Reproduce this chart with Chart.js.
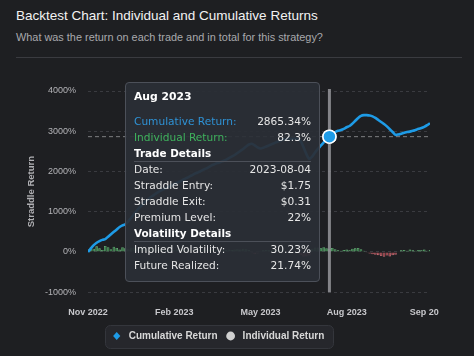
<!DOCTYPE html>
<html><head><meta charset="utf-8">
<script src="https://cdn.jsdelivr.net/npm/chart.js@4"></script>
<style>
html,body{margin:0;padding:0;background:#1e1f22;width:474px;height:356px;overflow:hidden;font-family:"Liberation Sans",Arial,sans-serif}
#title{position:absolute;left:16px;top:8px;font-size:13.5px;color:#f2f2f2}
#sub{position:absolute;left:16px;top:31px;font-size:10.9px;color:#a9a9ad}
#sep{position:absolute;left:16px;top:57px;width:446px;height:1px;background:#3a3b40}
#wrap{position:absolute;left:0;top:62px;width:449px;height:294px}
#tip{position:absolute;left:125px;top:82px;width:177px;height:186px;padding:6px 8px;background:rgba(42,46,54,0.93);border:1px solid #4c5059;border-radius:4px;font-family:"DejaVu Sans",sans-serif;font-size:10.6px;color:#e6e6e6}
#tip .h{font-weight:bold;font-size:10.4px;color:#fff;height:16px;line-height:16px}
#tip .h.t{height:24px;line-height:16px;font-size:10.8px}
#tip .r{display:flex;justify-content:space-between;height:16px;line-height:16px}
#tip .s{border-top:1px solid #4c5059;height:15px;line-height:14px}
</style></head><body>
<div id="title">Backtest Chart: Individual and Cumulative Returns</div>
<div id="sub">What was the return on each trade and in total for this strategy?</div>
<div id="sep"></div>
<div id="wrap"><canvas id="c" width="449" height="294"></canvas></div>
<div id="tip"></div>
<script>
// ---- data ----
const tickLabels = ['Nov 2022','Feb 2023','May 2023','Aug 2023','Sep 20'];
const tickPositions = [0, 30, 60, 90, 117];
const cumulativeReturn = [
 0,90,170,230,270,300,320,380,440,500,560,620,660,690,760,850,940,1030,1110,1180,
 1250,1310,1370,1420,1470,1510,1550,1580,1620,1650,1690,1720,1750,1790,1830,1860,1900,1940,1970,2000,
 2040,2070,2110,2150,2180,2210,2230,2260,2290,2330,2370,2410,2460,2510,2560,2620,2670,2690,2650,2600,
 2570,2590,2620,2650,2680,2710,2740,2770,2800,2810,2820,2810,2820,2810,2760,2600,2430,2310,2370,2470,
 2560,2640,2720,2800,2865.34,2930,2980,3010,3030,3060,3100,3130,3190,3260,3330,3380,3400,3400,3390,3370,
 3330,3280,3230,3180,3120,3050,2980,2910,2920,2940,2960,2980,2990,3010,3030,3060,3080,3110,3150,3200];
const individualReturn = [
 60,110,80,140,90,50,150,120,70,130,100,60,120,90,70,90,110,80,60,100,
 70,50,80,60,40,70,50,40,60,50,40,60,40,50,60,40,50,60,40,50,
 60,40,50,60,40,50,30,40,50,60,50,60,70,60,80,70,50,-30,-60,-40,
 30,40,50,40,50,40,50,40,40,20,20,-20,20,-30,-80,-120,-110,-90,80,110,
 110,90,120,95,82.3,100,70,40,30,50,60,40,80,90,100,70,30,-20,-40,-60,
 -70,-80,-100,-120,-90,-110,-80,-70,20,40,50,30,60,40,30,50,40,60,30,50];
const activeIndex = 84;
const tipInfo = {title:'Aug 2023', date:'2023-08-04', entry:'$1.75', exit:'$0.31', premium:'22%', iv:'30.23%', realized:'21.74%'};

const labels = cumulativeReturn.map((_, i) => i);
const lineColor = '#1e9be6';
const legendMarkers = [{color: lineColor, shape:'diamond'}, {color:'#d0d0d0', shape:'circle'}];

const tip = document.getElementById('tip');
tip.innerHTML =
 `<div class="h t">${tipInfo.title}</div>
  <div class="r" style="color:#2f93d6"><span>Cumulative Return:</span><span style="color:#e6e6e6">${cumulativeReturn[activeIndex].toFixed(2)}%</span></div>
  <div class="r" style="color:#3fb35d"><span>Individual Return:</span><span style="color:#e6e6e6">${individualReturn[activeIndex]}%</span></div>
  <div class="h">Trade Details</div>
  <div class="r s"><span>Date:</span><span>${tipInfo.date}</span></div>
  <div class="r"><span>Straddle Entry:</span><span>${tipInfo.entry}</span></div>
  <div class="r"><span>Straddle Exit:</span><span>${tipInfo.exit}</span></div>
  <div class="r"><span>Premium Level:</span><span>${tipInfo.premium}</span></div>
  <div class="h">Volatility Details</div>
  <div class="r s"><span>Implied Volatility:</span><span>${tipInfo.iv}</span></div>
  <div class="r"><span>Future Realized:</span><span>${tipInfo.realized}</span></div>`;

const crosshair = {
  id:'crosshair',
  afterDatasetsDraw(chart){
    const {ctx, chartArea:a, scales:{x,y}} = chart;
    const px = x.getPixelForValue(activeIndex);
    const py = y.getPixelForValue(cumulativeReturn[activeIndex]);
    ctx.save();
    ctx.strokeStyle = 'rgba(190,190,195,0.6)';
    ctx.setLineDash([4,3]); ctx.lineWidth = 1;
    ctx.beginPath(); ctx.moveTo(a.left, py); ctx.lineTo(a.right, py); ctx.stroke();
    ctx.setLineDash([]);
    ctx.strokeStyle = 'rgba(150,150,155,0.85)'; ctx.lineWidth = 3;
    ctx.beginPath(); ctx.moveTo(px, a.top-2); ctx.lineTo(px, a.bottom); ctx.stroke();
    ctx.restore();
    chart.getDatasetMeta(0).data[activeIndex].draw(ctx);
  }
};
const legendBox = {
  id:'legendBox',
  beforeDraw(chart){
    const lg = chart.legend; if(!lg || !lg.legendHitBoxes.length) return;
    const hb = lg.legendHitBoxes;
    const l = hb[0].left - 5, r = hb[hb.length-1].left + hb[hb.length-1].width + 8;
    const t = hb[0].top - 6.5, h = 23;
    const ctx = chart.ctx; ctx.save();
    ctx.fillStyle = '#26272c'; ctx.strokeStyle = '#34363c'; ctx.lineWidth = 1;
    ctx.beginPath(); ctx.roundRect(Math.round(l)+0.5, Math.round(t)+0.5, Math.round(r-l), h, 5); ctx.fill(); ctx.stroke();
    ctx.restore();
  },
  afterDraw(chart){
    const lg = chart.legend; if(!lg || !lg.legendHitBoxes.length) return;
    const ctx = chart.ctx; ctx.save();
    lg.legendHitBoxes.forEach((b, i) => {
      const m = legendMarkers[i]; if(!m) return;
      const cx = b.left + 7, cy = b.top + b.height/2;
      ctx.fillStyle = m.color; ctx.beginPath();
      if (m.shape === 'diamond'){ ctx.moveTo(cx, cy-4); ctx.lineTo(cx+3.6, cy); ctx.lineTo(cx, cy+4); ctx.lineTo(cx-3.6, cy); ctx.closePath(); }
      else { ctx.arc(cx, cy, 4.4, 0, Math.PI*2); }
      ctx.fill();
    });
    ctx.restore();
  }
};

new Chart(document.getElementById('c'), {
  data:{
    labels,
    datasets:[
      { type:'line', label:'Cumulative Return', data:cumulativeReturn,
        borderColor: lineColor, backgroundColor: lineColor, borderWidth: 2.6, tension: 0.25,
        pointRadius: ctx => ctx.dataIndex === activeIndex ? 6.5 : 0,
        pointBorderColor:'#ffffff', pointBorderWidth:1.5, pointBackgroundColor: lineColor,
        pointStyle:'circle', order:1 },
      { type:'bar', label:'Individual Return', data:individualReturn,
        backgroundColor: individualReturn.map(v => v >= 0 ? 'rgba(76,185,100,0.6)' : 'rgba(235,90,100,0.6)'),
        borderColor: individualReturn.map(v => v >= 0 ? 'rgba(130,220,150,0.9)' : 'rgba(245,140,150,0.9)'),
        borderWidth: 0.6, barPercentage: 0.9, categoryPercentage: 1, pointStyle:'circle', order:2 }
    ]
  },
  options:{
    animation:false, responsive:false,
    layout:{padding:{left:4, right:19, top:29, bottom:5}},
    plugins:{
      tooltip:{enabled:false},
      legend:{ position:'bottom',
        labels:{ usePointStyle:true, pointStyleWidth:14, boxHeight:6, padding:6, color:'#d8d8d8',
          font:{family:'Liberation Sans', size:10, weight:'bold'},
          generateLabels(chart){
            const items = Chart.defaults.plugins.legend.labels.generateLabels(chart);
            items.forEach(it => {
              it.fillStyle = 'rgba(0,0,0,0)'; it.strokeStyle = 'rgba(0,0,0,0)';
              it.lineWidth = 0; it.pointStyle = 'circle';
            });
            return items;
          } } }
    },
    scales:{
      x:{ type:'linear', min:0, max:cumulativeReturn.length-1, offset:false,
        grid:{display:false, offset:false}, border:{display:false},
        afterBuildTicks(scale){ scale.ticks = tickPositions.map(v => ({value:v})); },
        ticks:{ autoSkip:false, maxRotation:0, color:'#c8c8cc', padding:7,
          font:{family:'Liberation Sans', size:9, weight:'bold'},
          callback:(v) => tickLabels[tickPositions.indexOf(v)] } },
      y:{ min:-1000, max:4000,
        afterFit(scale){ scale.width = 84; },
        grid:{color:'#3a3b40', lineWidth:1, drawTicks:false},
        border:{display:false, dash:[3,3]},
        ticks:{ stepSize:1000, color:'#b4b4b8', padding:12, font:{family:'Liberation Sans', size:9},
          callback:v => v + '%' },
        title:{ display:true, text:'Straddle Return', color:'#b0b0b4', padding:{top:22, bottom:0},
          font:{family:'Liberation Sans', size:9.5, weight:'bold'} } }
    }
  },
  plugins:[legendBox, crosshair]
});
</script>
</body></html>
